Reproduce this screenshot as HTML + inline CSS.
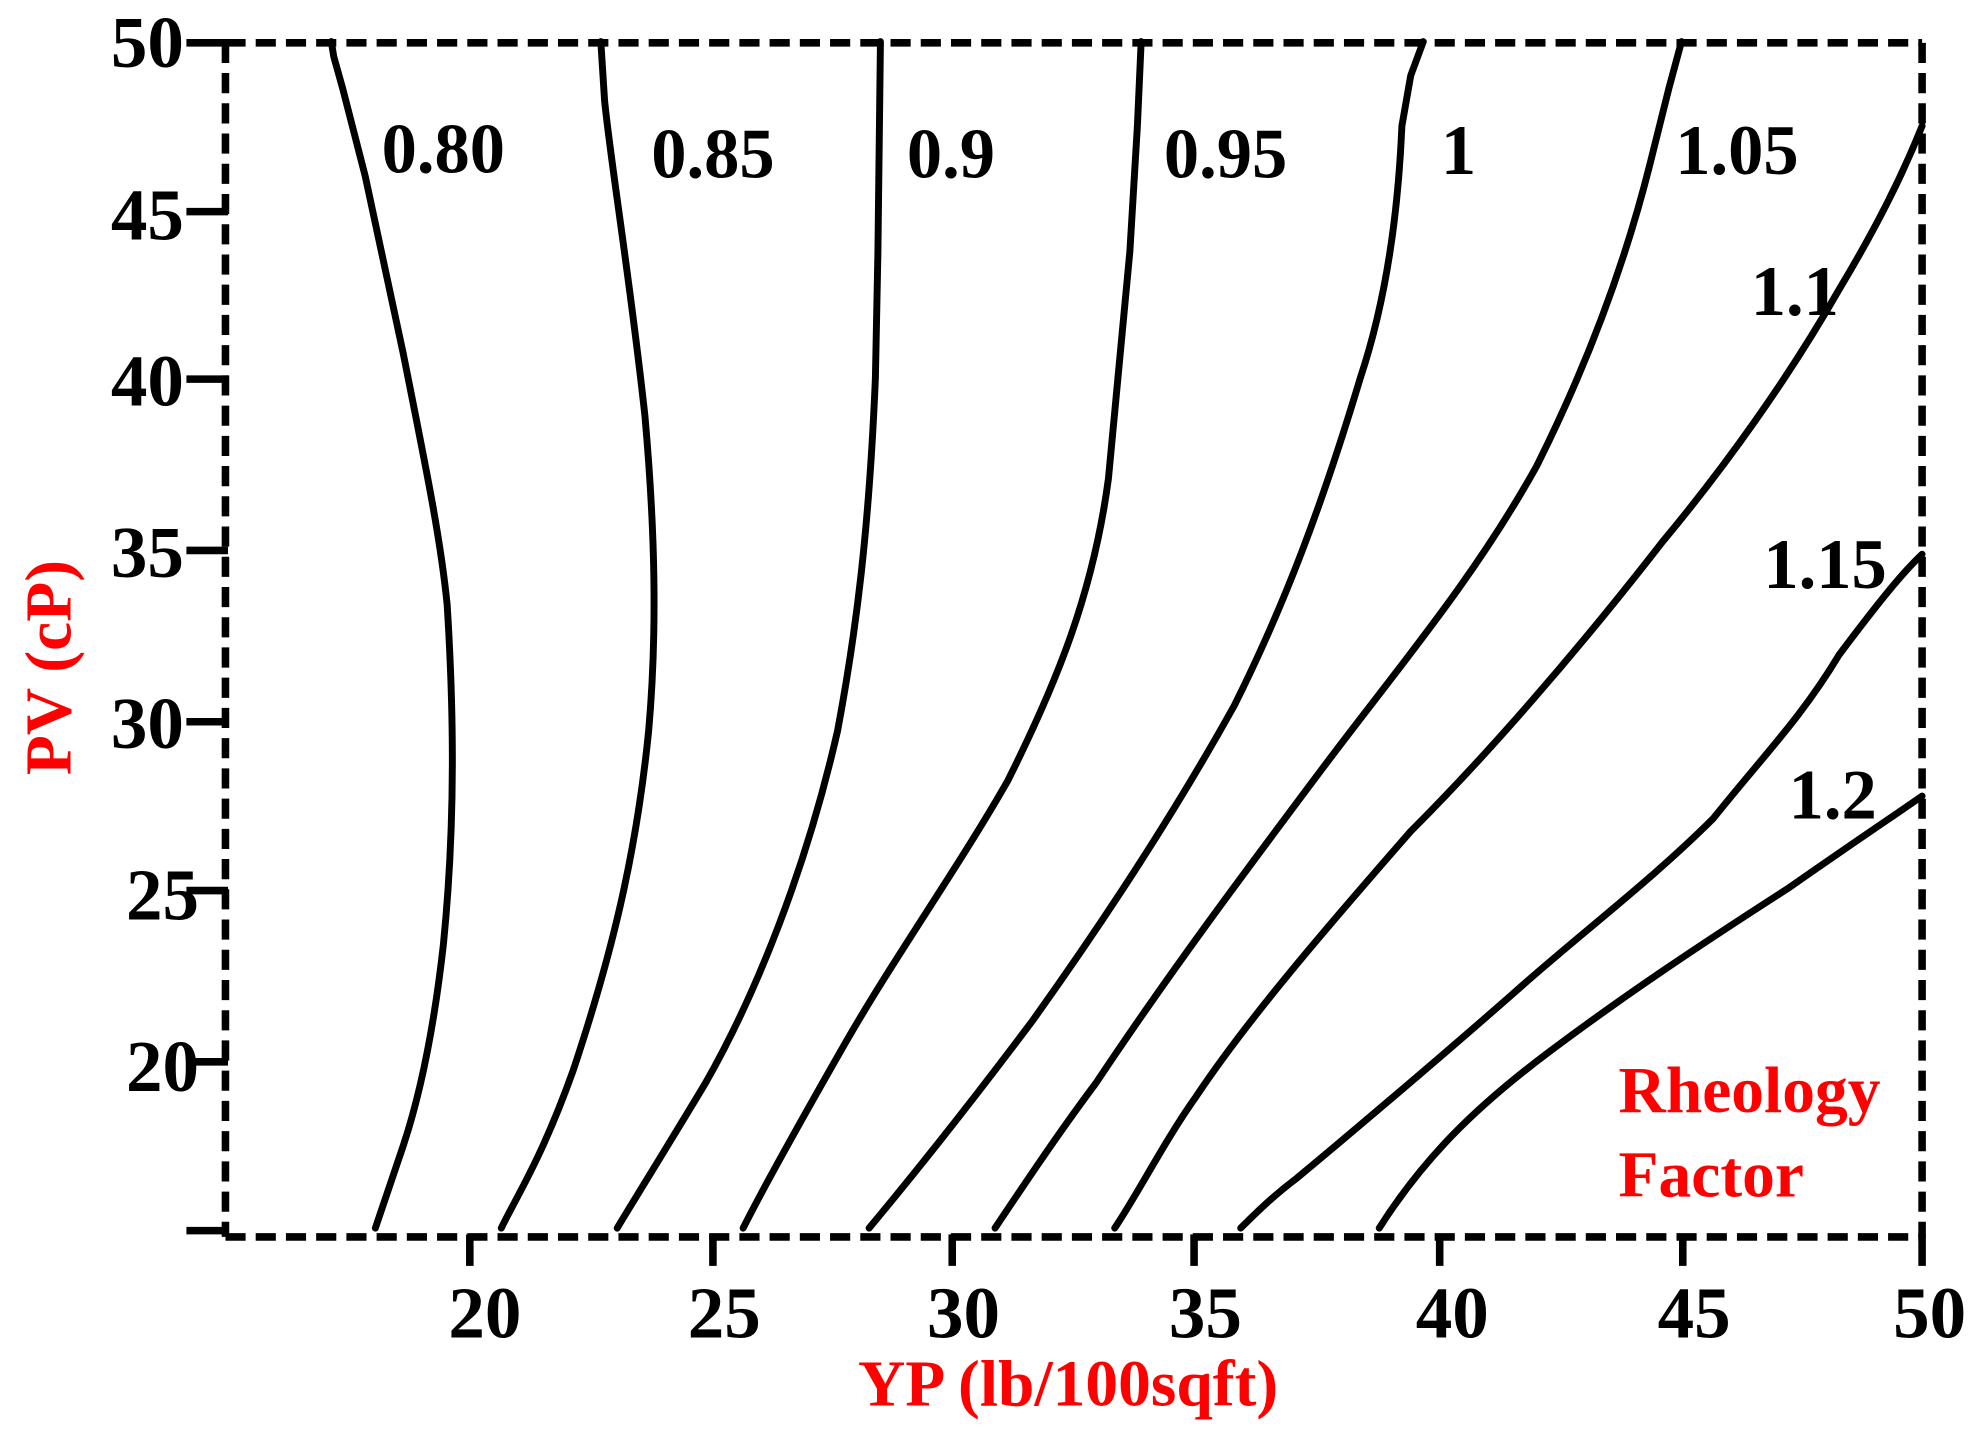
<!DOCTYPE html>
<html><head><meta charset="utf-8"><style>
html,body{margin:0;padding:0;background:#fff;}
svg{display:block;}
text{font-family:"Liberation Serif",serif;font-weight:bold;}
</style></head><body>
<svg width="1975" height="1444" viewBox="0 0 1568 1146.4" preserveAspectRatio="none" xmlns="http://www.w3.org/2000/svg">
<g fill="none" stroke="#000" stroke-width="6" stroke-dasharray="16 8">
<line x1="179" y1="34" x2="1526" y2="34"/>
<line x1="179" y1="982" x2="1526" y2="982"/>
<line x1="179" y1="34" x2="179" y2="982"/>
<line x1="1526" y1="34" x2="1526" y2="982"/>
</g>
<g stroke="#000" stroke-width="6">
<line x1="148" y1="34" x2="181" y2="34"/>
<line x1="148" y1="168" x2="181" y2="168"/>
<line x1="148" y1="301" x2="181" y2="301"/>
<line x1="148" y1="437" x2="181" y2="437"/>
<line x1="148" y1="573" x2="181" y2="573"/>
<line x1="148" y1="707" x2="181" y2="707"/>
<line x1="148" y1="843" x2="181" y2="843"/>
<line x1="148" y1="977" x2="181" y2="977"/>
<line x1="373" y1="980" x2="373" y2="1005"/>
<line x1="566" y1="980" x2="566" y2="1005"/>
<line x1="756" y1="980" x2="756" y2="1005"/>
<line x1="948" y1="980" x2="948" y2="1005"/>
<line x1="1143" y1="980" x2="1143" y2="1005"/>
<line x1="1336" y1="980" x2="1336" y2="1005"/>
<line x1="1526" y1="980" x2="1526" y2="1005"/>
</g>
<g fill="none" stroke="#000" stroke-width="5.5" stroke-linecap="round" stroke-linejoin="round">
<path d="M263,33 L265,45 L272,70 L290,140 L320,280 C340,380 350,430 355,480 C360,560 362,650 352,750 C343,830 330,880 320,910 L298,975"/>
<path d="M477,33 L480,80 C485,130 500,220 512,330 C520,420 522,500 515,580 C505,680 485,760 455,850 C430,920 410,950 398,975"/>
<path d="M699,33 L697,200 L695,300 C690,420 680,500 665,580 C640,690 600,790 560,860 C530,910 505,950 490,975"/>
<path d="M906,33 L903,100 L897,200 C890,270 885,330 880,380 C868,470 840,540 800,620 C760,690 710,760 670,830 C630,900 605,945 590,975"/>
<path d="M1130,33 L1120,60 L1113,100 C1110,170 1100,240 1080,300 C1050,400 1020,480 980,560 C930,650 870,740 820,810 C760,890 715,945 690,975"/>
<path d="M1335,33 L1325,70 L1310,130 C1290,210 1260,290 1220,370 C1170,460 1110,530 1050,610 C990,690 930,770 870,860 C840,900 810,945 790,975"/>
<path d="M1526,100 C1510,140 1490,180 1460,230 C1420,300 1370,370 1320,430 C1250,520 1180,600 1120,660 C1050,740 990,810 950,870 C925,905 905,945 885,975"/>
<path d="M1526,440 C1510,455 1490,480 1460,520 C1430,570 1400,600 1360,650 C1310,700 1250,745 1200,790 C1120,860 1060,910 1030,935 C1010,950 995,965 985,975"/>
<path d="M1526,632 C1500,650 1470,670 1420,705 C1350,750 1290,790 1230,835 C1170,880 1130,920 1095,975"/>
</g>
<g font-size="58" fill="#000" text-anchor="end">
<text x="146" y="53">50</text>
<text x="146" y="190">45</text>
<text x="146" y="322">40</text>
<text x="146" y="458">35</text>
<text x="146" y="594">30</text>
<text x="158" y="730">25</text>
<text x="158" y="866">20</text>
</g>
<g font-size="58" fill="#000" text-anchor="middle">
<text x="385" y="1062">20</text>
<text x="575" y="1062">25</text>
<text x="765" y="1062">30</text>
<text x="957" y="1062">35</text>
<text x="1153" y="1062">40</text>
<text x="1345" y="1062">45</text>
<text x="1532" y="1062">50</text>
</g>
<g font-size="56" fill="#000">
<text x="303" y="137">0.80</text>
<text x="517" y="141">0.85</text>
<text x="720" y="141">0.9</text>
<text x="924" y="141">0.95</text>
<text x="1144" y="138">1</text>
<text x="1330" y="138">1.05</text>
<text x="1390" y="250">1.1</text>
<text x="1400" y="467">1.15</text>
<text x="1420" y="650">1.2</text>
</g>
<g fill="#f00" font-size="52">
<text x="848" y="1116" text-anchor="middle">YP (lb/100sqft)</text>
<text x="1285" y="883">Rheology</text>
<text x="1285" y="950">Factor</text>
<text transform="translate(56,530) rotate(-90)" text-anchor="middle">PV (cP)</text>
</g>
</svg>
</body></html>
